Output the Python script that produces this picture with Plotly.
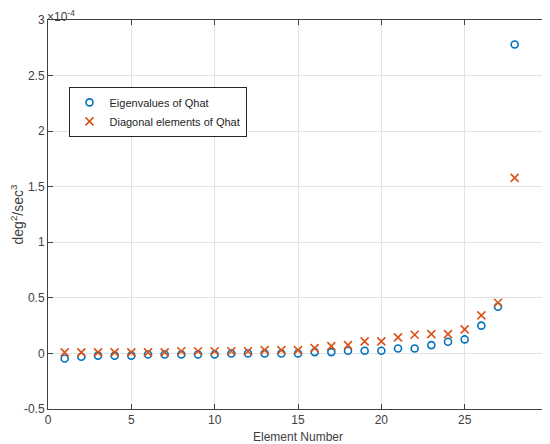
import plotly.graph_objects as go

# element index 1..28, values in units of 1e-4 deg^2/sec^3
element = list(range(1, 29))
eigenvalues = [-0.045, -0.03, -0.02, -0.02, -0.02, -0.01, -0.01, -0.01, -0.01, -0.01,
               0.0, 0.0, 0.0, 0.0, 0.0, 0.012, 0.012, 0.024, 0.024, 0.024,
               0.045, 0.045, 0.075, 0.105, 0.126, 0.25, 0.42, 2.78]
diagonal = [0.01, 0.01, 0.01, 0.01, 0.01, 0.01, 0.01, 0.02, 0.02, 0.02,
            0.02, 0.02, 0.03, 0.03, 0.03, 0.048, 0.066, 0.075, 0.108, 0.108,
            0.144, 0.168, 0.174, 0.174, 0.216, 0.342, 0.456, 1.58]

x_ticks = [0, 5, 10, 15, 20, 25, 30]
y_ticks = [-0.5, 0, 0.5, 1, 1.5, 2, 2.5, 3]

axis_col = '#404040'
font = dict(family='Liberation Sans, Arial, sans-serif', size=12, color=axis_col)

fig = go.Figure()

fig.add_trace(go.Scatter(x=element, y=eigenvalues, mode='markers',
                         name='Eigenvalues of Qhat',
                         marker=dict(symbol='circle-open', size=7, color='#0072BD',
                                     line=dict(width=1.6, color='#0072BD'))))

fig.add_trace(go.Scatter(x=element, y=diagonal, mode='markers',
                         name='Diagonal elements of Qhat',
                         marker=dict(symbol='x-thin-open', size=8, color='#D95319',
                                     line=dict(width=1.6, color='#D95319'))))

axis_common = dict(showline=True, linecolor=axis_col, linewidth=1, mirror='ticks',
                   ticks='inside', ticklen=5, tickcolor=axis_col,
                   showgrid=True, gridcolor='#e3e3e3', gridwidth=1,
                   zeroline=False, tickfont=font, automargin=False)

# page body has an 8px margin, so the figure is a bit smaller than the window
fig.update_layout(
    width=542, height=436,
    margin=dict(l=40, r=2, t=12, b=35),
    paper_bgcolor='white', plot_bgcolor='white',
    font=font,
    showlegend=True,
    legend=dict(x=0.041, y=0.828, xanchor='left', yanchor='top',
                bgcolor='white', bordercolor='#262626', borderwidth=1,
                font=dict(family='Liberation Sans, Arial, sans-serif', size=11, color='#262626'),
                itemwidth=30, tracegroupgap=0),
    xaxis=dict(range=[0, 30], tickvals=x_ticks,
               title=dict(text='Element Number', font=font),
               **axis_common),
    yaxis=dict(range=[-0.5, 3], tickvals=y_ticks,
               ticktext=[('%g' % v) for v in y_ticks],
               title=dict(text='deg<sup>2</sup>/sec<sup>3</sup>',
                          font=dict(family='Liberation Sans, Arial, sans-serif', size=14, color=axis_col)),
               **axis_common),
    annotations=[dict(text='\u00d710<sup>-4</sup>', xref='paper', yref='paper',
                      x=0, y=1, xanchor='left', yanchor='bottom', showarrow=False,
                      font=font, yshift=-6, xshift=-3)],
)

fig.write_html('out.html')
